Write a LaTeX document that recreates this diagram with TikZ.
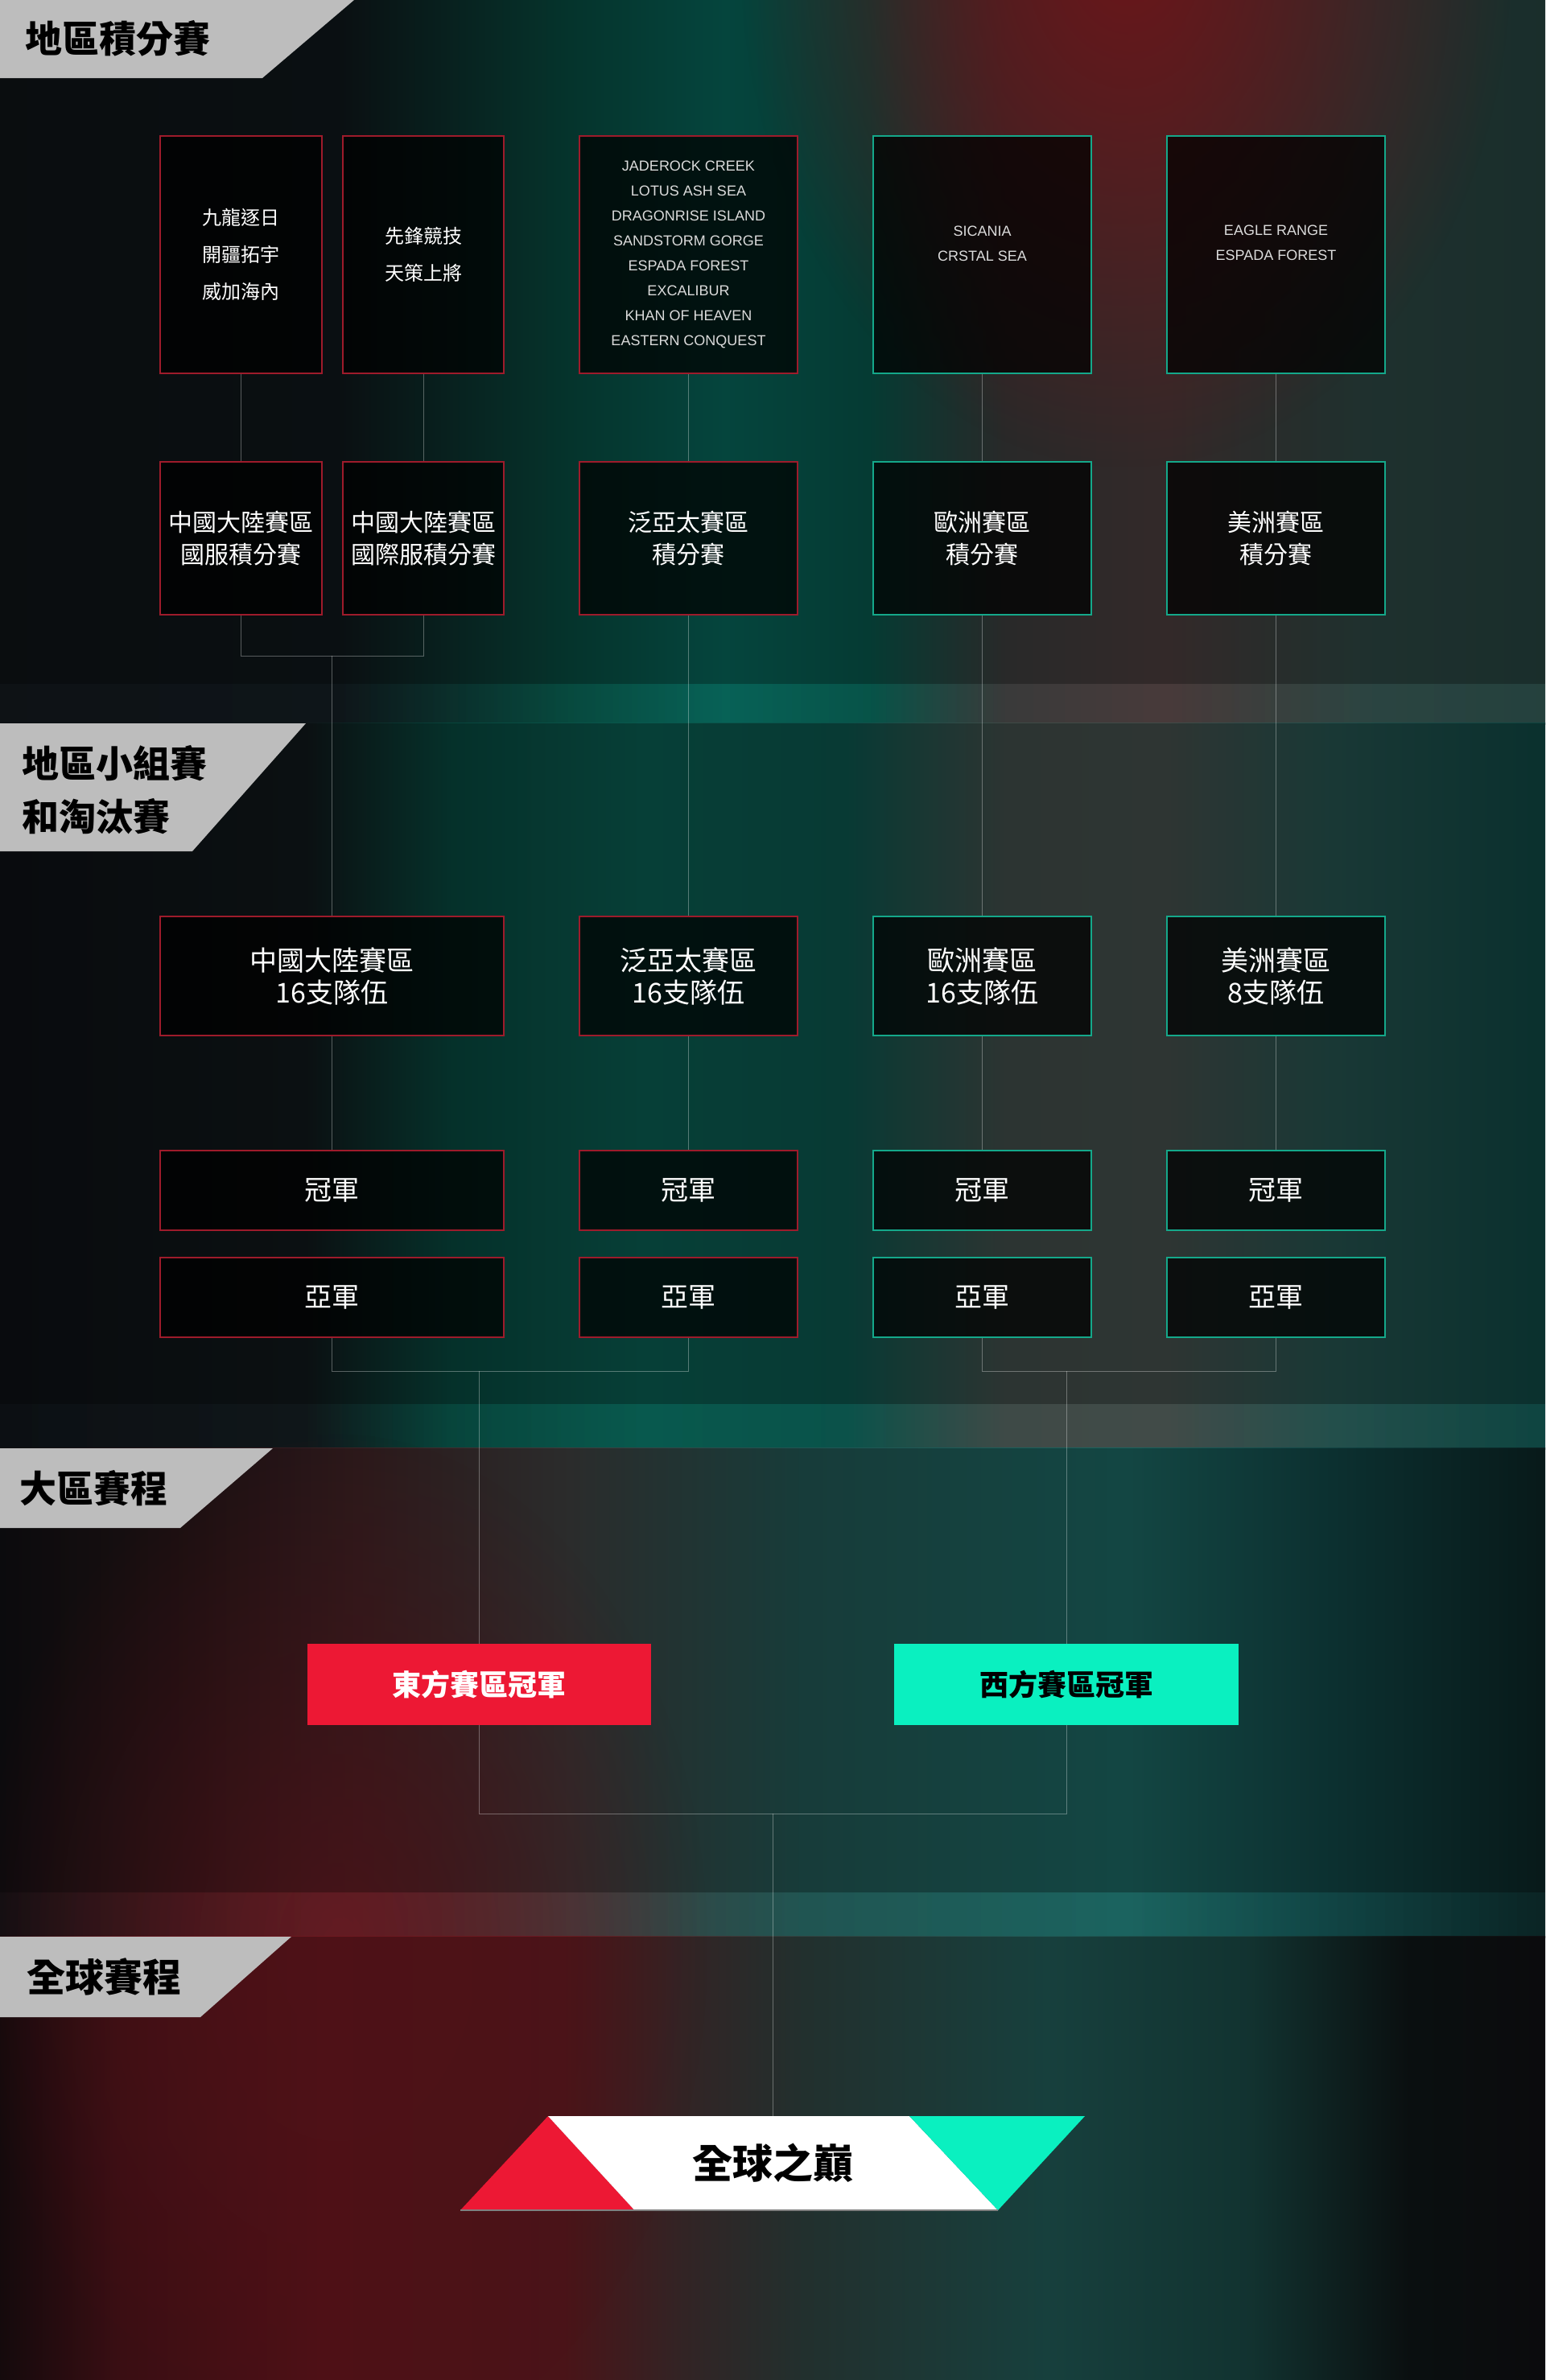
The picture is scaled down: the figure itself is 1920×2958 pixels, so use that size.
\documentclass[tikz,border=0pt]{standalone}
\usepackage{fontspec}
\setmainfont{Liberation Sans}
\newfontfamily\cjk{Noto Sans CJK TC}
\usetikzlibrary{positioning,fadings}

\definecolor{eastred}{HTML}{ED1834}
\definecolor{westteal}{HTML}{0AF0C0}
\definecolor{boxred}{HTML}{9E1B2B}
\definecolor{boxteal}{HTML}{14A88A}
\definecolor{taggray}{HTML}{BDBDBD}
\definecolor{glowred}{HTML}{6A161A}
\definecolor{lowred}{HTML}{4E1218}

\tikzfading[name=glow, inner color=transparent!0, outer color=transparent!100]

% background, one strip per stage, left to right
\pgfdeclarehorizontalshading{bgtop}{100bp}{rgb(0bp)=(0.04,0.05,0.06); rgb(25bp)=(0.04,0.05,0.06); rgb(35.94bp)=(0.04,0.06,0.07); rgb(43.23bp)=(0.02,0.2,0.17); rgb(48.44bp)=(0.02,0.27,0.24); rgb(53.13bp)=(0.02,0.23,0.2); rgb(57.55bp)=(0.16,0.16,0.16); rgb(62.76bp)=(0.2,0.16,0.16); rgb(69.27bp)=(0.12,0.19,0.18); rgb(75bp)=(0.1,0.18,0.17); rgb(100bp)=(0.1,0.18,0.17)}
\pgfdeclarehorizontalshading{bgmid}{100bp}{rgb(0bp)=(0.035,0.043,0.055); rgb(25bp)=(0.035,0.043,0.055); rgb(34.9bp)=(0.043,0.063,0.07); rgb(39.58bp)=(0.02,0.19,0.165); rgb(45.83bp)=(0.024,0.247,0.216); rgb(52.34bp)=(0.03,0.227,0.204); rgb(57.55bp)=(0.173,0.204,0.196); rgb(62.76bp)=(0.18,0.208,0.2); rgb(67.97bp)=(0.1,0.22,0.21); rgb(75bp)=(0.04,0.19,0.18); rgb(100bp)=(0.04,0.19,0.18)}
\pgfdeclarehorizontalshading{bglow}{100bp}{rgb(0bp)=(0.043,0.043,0.05); rgb(25bp)=(0.043,0.043,0.05); rgb(31.51bp)=(0.11,0.063,0.07); rgb(36.72bp)=(0.17,0.1,0.106); rgb(43.23bp)=(0.17,0.17,0.17); rgb(51.04bp)=(0.09,0.235,0.227); rgb(61.46bp)=(0.075,0.275,0.263); rgb(67.97bp)=(0.047,0.19,0.19); rgb(75bp)=(0.03,0.1,0.1); rgb(100bp)=(0.03,0.1,0.1)}
\pgfdeclarehorizontalshading{bgend}{100bp}{rgb(0bp)=(0.08,0.04,0.047); rgb(25bp)=(0.08,0.04,0.047); rgb(28.91bp)=(0.227,0.055,0.075); rgb(35.42bp)=(0.306,0.063,0.086); rgb(43.23bp)=(0.29,0.078,0.094); rgb(47.14bp)=(0.196,0.141,0.145); rgb(51.04bp)=(0.133,0.188,0.18); rgb(58.85bp)=(0.09,0.25,0.24); rgb(65.36bp)=(0.07,0.2,0.19); rgb(70.57bp)=(0.04,0.06,0.063); rgb(75bp)=(0.043,0.043,0.05); rgb(100bp)=(0.043,0.043,0.05)}

\begin{document}
\begin{tikzpicture}[x=1pt, y=-1pt,
    tag/.style={font=\cjk\bfseries\fontsize{46}{66}\selectfont, text=black, anchor=west, align=left, inner sep=0pt},
    cell/.style={fill=black, fill opacity=0.72, text opacity=1, text=white, line width=1.5pt, align=center, inner sep=0pt, font=\cjk\fontsize{30}{40}\selectfont},
    latin/.style={font=\fontsize{18}{31}\selectfont, text=white!86!black},
    link/.style={draw=white, draw opacity=0.32, line width=1pt},
    band/.style={fill=black!70, blend mode=color dodge},
    final/.style={font=\cjk\bfseries\fontsize{36}{40}\selectfont, inner sep=0pt, minimum width=427, minimum height=101}]
    \useasboundingbox (0,0) rectangle (1920,2958);
    \clip (0,0) rectangle (1920,2958);

    % Background
    \shade[shading=bgtop] (0,0) rectangle (1920,900);
    \shade[shading=bgmid] (0,898) rectangle (1920,1801);
    \shade[shading=bglow] (0,1799) rectangle (1920,2408);
    \shade[shading=bgend] (0,2406) rectangle (1920,2958);
    \fill[glowred, path fading=glow] (1400,-60) ellipse [x radius=480, y radius=640];
    \fill[lowred, fill opacity=0.8, path fading=glow] (420,2420) ellipse [x radius=460, y radius=640];
    \foreach \ya/\yb in {850/899,1745/1800,2352/2407}
        \fill[band] (0,\ya) rectangle (1920,\yb);

    % Stage tags
    \fill[taggray] (0,0) -- (440,0) -- (326,97) -- (0,97) -- cycle;
    \node[tag] (tagone) at (31,48) {地區積分賽};
    \fill[taggray] (0,899) -- (380,899) -- (239,1058) -- (0,1058) -- cycle;
    \node[tag] (tagtwo) at (27,982) {地區小組賽\\和淘汰賽};
    \fill[taggray] (0,1800) -- (339,1800) -- (224,1899) -- (0,1899) -- cycle;
    \node[tag] (tagthree) at (24,1850) {大區賽程};
    \fill[taggray] (0,2407) -- (362,2407) -- (249,2507) -- (0,2507) -- cycle;
    \node[tag, font=\cjk\bfseries\fontsize{48}{66}\selectfont] (tagfour) at (33,2457) {全球賽程};

    % Maps
    \node[cell, draw=boxred, minimum width=201, minimum height=295, font=\cjk\fontsize{24}{46}\selectfont] (mapa) at (299.5,316.5) {九龍逐日\\開疆拓宇\\威加海內};
    \node[cell, draw=boxred, minimum width=200, minimum height=295, font=\cjk\fontsize{24}{46}\selectfont] (mapb) at (526,316.5) {先鋒競技\\天策上將};
    \node[cell, draw=boxred, minimum width=271, minimum height=295, latin] (mapc) at (855.5,316.5) {JADEROCK CREEK\\LOTUS ASH SEA\\DRAGONRISE ISLAND\\SANDSTORM GORGE\\ESPADA FOREST\\EXCALIBUR\\KHAN OF HEAVEN\\EASTERN CONQUEST};
    \node[cell, draw=boxteal, minimum width=271, minimum height=295, latin, text depth=28pt] (mapd) at (1220.5,316.5) {SICANIA\\CRSTAL SEA};
    \node[cell, draw=boxteal, minimum width=271, minimum height=295, latin, text depth=30pt] (mape) at (1585.5,316.5) {EAGLE RANGE\\ESPADA FOREST};

    % Points leagues
    \foreach \n/\x/\w/\bc/\txt in {a/299.5/201/boxred/{中國大陸賽區\\國服積分賽}, b/526/200/boxred/{中國大陸賽區\\國際服積分賽}, c/855.5/271/boxred/{泛亞太賽區\\積分賽}, d/1220.5/271/boxteal/{歐洲賽區\\積分賽}, e/1585.5/271/boxteal/{美洲賽區\\積分賽}}
        \node[cell, draw=\bc, minimum width=\w, minimum height=190] (lg\n) at (\x,669) {\txt};

    % Groups and knockouts
    \foreach \n/\x/\w/\bc/\txt in {a/412.5/427/boxred/{中國大陸賽區\\16支隊伍}, b/855.5/271/boxred/{泛亞太賽區\\16支隊伍}, c/1220.5/271/boxteal/{歐洲賽區\\16支隊伍}, d/1585.5/271/boxteal/{美洲賽區\\8支隊伍}} {
        \node[cell, draw=\bc, minimum width=\w, minimum height=148, font=\cjk\fontsize{34}{40}\selectfont] (grp\n) at (\x,1213) {\txt};
        \node[cell, draw=\bc, minimum width=\w, minimum height=99, font=\cjk\fontsize{34}{40}\selectfont] (win\n) at (\x,1479.5) {冠軍};
        \node[cell, draw=\bc, minimum width=\w, minimum height=99, font=\cjk\fontsize{34}{40}\selectfont] (sec\n) at (\x,1612.5) {亞軍};
    }

    % Conferences
    \node[final, fill=eastred, text=white] (east) at (595.5,2093.5) {東方賽區冠軍};
    \node[final, fill=westteal, text=black, minimum width=428] (west) at (1325,2093.5) {西方賽區冠軍};

    % Summit
    \fill[eastred] (572,2747) -- (681,2630) -- (788.5,2747) -- cycle;
    \fill[white] (681,2630) -- (1130,2630) -- (1240,2747) -- (788.5,2747) -- cycle;
    \fill[westteal] (1130,2630) -- (1348,2630) -- (1240,2747) -- cycle;
    \draw[gray, line width=1.5pt] (572,2747) -- (1240,2747);
    \node[font=\cjk\bfseries\fontsize{50}{56}\selectfont, minimum height=117, inner sep=0pt] (peak) at (960,2688.5) {全球之巔};

    % Links
    \coordinate (mcn) at (412.5,815);
    \coordinate (meast) at (595.5,1704);
    \coordinate (mwest) at (1325,1704);
    \coordinate (mpeak) at (960,2254);
    \foreach \n in {a,b,c,d,e}
        \draw[link] (map\n.south) -- (lg\n.north);
    \draw[link] (lga.south) |- (mcn) -| (lgb.south);
    \draw[link] (mcn) -- (grpa.north);
    \foreach \i/\j in {c/b,d/c,e/d}
        \draw[link] (lg\i.south) -- (grp\j.north);
    \foreach \n in {a,b,c,d}
        \draw[link] (grp\n.south) -- (win\n.north);
    \draw[link] (seca.south) |- (meast) -| (secb.south);
    \draw[link] (meast) -- (east.north);
    \draw[link] (secc.south) |- (mwest) -| (secd.south);
    \draw[link] (mwest) -- (west.north);
    \draw[link] (east.south) |- (mpeak) -| (west.south);
    \draw[link] (mpeak) -- (peak.north);
\end{tikzpicture}
\end{document}
